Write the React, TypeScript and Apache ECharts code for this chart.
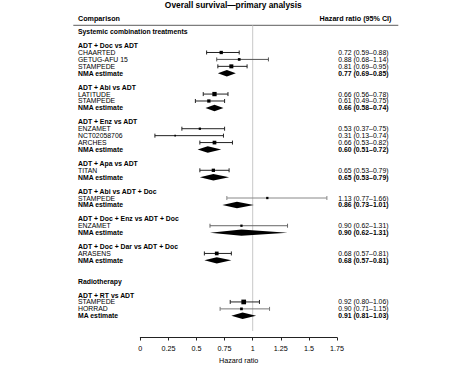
import React, { useEffect, useRef } from "react";
import * as echarts from "echarts";

// ---------- data ----------
const chartTitle = "Overall survival\u2014primary analysis";
const headerLeft = "Comparison";
const headerRight = "Hazard ratio (95% CI)";
const axisTitle = "Hazard ratio";

const sections = ["Systemic combination treatments", "Radiotherapy"];
const comparisons = [
  "ADT + Doc vs ADT",
  "ADT + Abi vs ADT",
  "ADT + Enz vs ADT",
  "ADT + Apa vs ADT",
  "ADT + Abi vs ADT + Doc",
  "ADT + Doc + Enz vs ADT + Doc",
  "ADT + Doc + Dar vs ADT + Doc",
  "ADT + RT vs ADT",
];
const comparisonSection = [0, 0, 0, 0, 0, 0, 0, 1];

const trials = [
  "CHAARTED", "GETUG-AFU 15", "STAMPEDE",
  "LATITUDE", "STAMPEDE",
  "ENZAMET", "NCT02058706", "ARCHES",
  "TITAN",
  "STAMPEDE",
  "ENZAMET",
  "ARASENS",
  "STAMPEDE", "HORRAD",
];
const trialComparison = [0, 0, 0, 1, 1, 2, 2, 2, 3, 4, 5, 6, 7, 7];
const trialHR = [0.72, 0.88, 0.81, 0.66, 0.61, 0.53, 0.31, 0.66, 0.65, 1.13, 0.9, 0.68, 0.92, 0.9];
const trialLow = [0.59, 0.68, 0.69, 0.56, 0.49, 0.37, 0.13, 0.53, 0.53, 0.77, 0.62, 0.57, 0.8, 0.71];
const trialHigh = [0.88, 1.14, 0.95, 0.78, 0.75, 0.75, 0.74, 0.82, 0.79, 1.66, 1.31, 0.81, 1.06, 1.15];
const trialWeight = [3.3, 2.7, 4.0, 4.3, 3.3, 2.3, 1.6, 3.7, 3.3, 2.3, 2.3, 3.7, 4.7, 2.7];

const estimateLabels = [
  "NMA estimate", "NMA estimate", "NMA estimate", "NMA estimate",
  "NMA estimate", "NMA estimate", "NMA estimate", "MA estimate",
];
const estimateHR = [0.77, 0.66, 0.6, 0.65, 0.86, 0.9, 0.68, 0.91];
const estimateLow = [0.69, 0.58, 0.51, 0.53, 0.73, 0.62, 0.57, 0.81];
const estimateHigh = [0.85, 0.74, 0.72, 0.79, 1.01, 1.31, 0.81, 1.03];

const referenceHR = 1;

// ---------- styles / layout ----------
const FONT = "'Liberation Sans', Arial, Helvetica, sans-serif";
const FS = 7.2;
const ROW_FS = 6.85;
const trialLineColor = ["#222", "#555", "#222", "#222", "#222", "#222", "#222", "#222", "#222", "#888", "#666", "#222", "#222", "#777"];

const fmt = (v: number) => v.toFixed(2);
const ciText = (h: number, l: number, u: number) => `${fmt(h)} (${fmt(l)}\u2013${fmt(u)})`;

type Row = { row: number; left: string; right: string; bold: boolean };

function buildLayout() {
  const textRows: Row[] = [];
  const trialRow: number[] = [];
  const estRow: number[] = [];
  let r = 0;
  sections.forEach((s, si) => {
    if (si > 0) r++;
    textRows.push({ row: r, left: s, right: "", bold: true });
    r += 2;
    comparisons.forEach((c, ci) => {
      if (comparisonSection[ci] !== si) return;
      textRows.push({ row: r, left: c, right: "", bold: true });
      r++;
      trials.forEach((t, ti) => {
        if (trialComparison[ti] !== ci) return;
        trialRow[ti] = r;
        textRows.push({ row: r, left: t, right: ciText(trialHR[ti], trialLow[ti], trialHigh[ti]), bold: false });
        r++;
      });
      estRow[ci] = r;
      textRows.push({ row: r, left: estimateLabels[ci], right: ciText(estimateHR[ci], estimateLow[ci], estimateHigh[ci]), bold: true });
      r++;
      r++;
    });
  });
  return { textRows, trialRow, estRow };
}

export default function App() {
  const ref = useRef<HTMLDivElement>(null);
  useEffect(() => {
    if (!ref.current) return;
    const chart = echarts.init(ref.current, null, { renderer: "svg" });
    const { textRows, trialRow, estRow } = buildLayout();
    const LEFT_X = 78;
    const RIGHT_X = 388.5;

    const option: any = {
      animation: false,
      backgroundColor: "#fff",
      grid: { left: 140.3, right: 137, top: 24.98, bottom: 34.5 },
      xAxis: {
        type: "value",
        min: 0,
        max: 1.75,
        interval: 0.25,
        splitLine: { show: false },
        axisLine: { show: true, onZero: false, lineStyle: { color: "#222", width: 1 } },
        axisTick: { show: true, length: 3, lineStyle: { color: "#222", width: 1 } },
        axisLabel: { color: "#000", fontSize: FS, fontFamily: FONT, margin: 7 },
        name: axisTitle,
        nameLocation: "middle",
        nameGap: 19,
        nameTextStyle: { color: "#000", fontSize: FS, fontFamily: FONT },
      },
      yAxis: { type: "value", inverse: true, min: -0.97, max: 44.13, show: false },
      graphic: [
        {
          type: "text", x: 233.3, y: 5,
          style: { text: chartTitle, fill: "#000", font: `bold 8.4px ${FONT}`, align: "center", verticalAlign: "middle" },
        },
        {
          type: "text", x: LEFT_X, y: 18,
          style: { text: headerLeft, fill: "#000", font: `bold ${FS}px ${FONT}`, align: "left", verticalAlign: "middle" },
        },
        {
          type: "text", x: 391.5, y: 18,
          style: { text: headerRight, fill: "#000", font: `bold ${FS}px ${FONT}`, align: "right", verticalAlign: "middle" },
        },
        {
          type: "line", shape: { x1: 73.3, y1: 25.3, x2: 398.3, y2: 25.3 },
          style: { stroke: "#333", lineWidth: 0.8 },
        },
      ],
      series: [
        {
          type: "custom",
          clip: false,
          silent: true,
          data: [[referenceHR, -0.9, 43.2]],
          encode: { x: 0, y: [1, 2] },
          renderItem: (params: any, api: any) => {
            const a = api.coord([api.value(0), api.value(1)]);
            const b = api.coord([api.value(0), api.value(2)]);
            return {
              type: "line",
              shape: { x1: a[0], y1: a[1], x2: b[0], y2: b[1] },
              style: { stroke: "#c8c8c8", lineWidth: 1 },
            };
          },
        },
        {
          type: "custom",
          clip: false,
          silent: true,
          data: trials.map((_, i) => [trialHR[i], trialLow[i], trialHigh[i], trialRow[i], trialWeight[i]]),
          encode: { x: [0, 1, 2], y: 3 },
          renderItem: (params: any, api: any) => {
            const row = api.value(3);
            const c = api.coord([api.value(0), row]);
            const l = api.coord([api.value(1), row]);
            const h = api.coord([api.value(2), row]);
            const s = api.value(4);
            const col = trialLineColor[params.dataIndex];
            const cap = 2;
            return {
              type: "group",
              children: [
                { type: "line", shape: { x1: l[0], y1: c[1], x2: h[0], y2: c[1] }, style: { stroke: col, lineWidth: 1 } },
                { type: "line", shape: { x1: l[0], y1: c[1] - cap, x2: l[0], y2: c[1] + cap }, style: { stroke: col, lineWidth: 1 } },
                { type: "line", shape: { x1: h[0], y1: c[1] - cap, x2: h[0], y2: c[1] + cap }, style: { stroke: col, lineWidth: 1 } },
                { type: "rect", shape: { x: c[0] - s / 2, y: c[1] - s / 2, width: s, height: s }, style: { fill: "#000" } },
              ],
            };
          },
        },
        {
          type: "custom",
          clip: false,
          silent: true,
          data: comparisons.map((_, i) => [estimateHR[i], estimateLow[i], estimateHigh[i], estRow[i]]),
          encode: { x: [0, 1, 2], y: 3 },
          renderItem: (params: any, api: any) => {
            const row = api.value(3);
            const c = api.coord([api.value(0), row]);
            const l = api.coord([api.value(1), row]);
            const h = api.coord([api.value(2), row]);
            const hh = 3.2;
            return {
              type: "polygon",
              shape: { points: [[l[0], c[1]], [c[0], c[1] - hh], [h[0], c[1]], [c[0], c[1] + hh]] },
              style: { fill: "#000" },
            };
          },
        },
        {
          type: "custom",
          clip: false,
          silent: true,
          data: textRows.map((t) => [0, t.row]),
          encode: { x: 0, y: 1 },
          renderItem: (params: any, api: any) => {
            const t = textRows[params.dataIndex];
            const p = api.coord([0, api.value(1)]);
            const font = `${t.bold ? "bold " : ""}${ROW_FS}px ${FONT}`;
            const children: any[] = [
              { type: "text", x: LEFT_X, y: p[1], style: { text: t.left, fill: "#000", font, align: "left", verticalAlign: "middle" } },
            ];
            if (t.right) {
              children.push({ type: "text", x: RIGHT_X, y: p[1], style: { text: t.right, fill: "#000", font, align: "right", verticalAlign: "middle" } });
            }
            return { type: "group", children };
          },
        },
      ],
    };
    chart.setOption(option);
    return () => chart.dispose();
  }, []);
  return <div ref={ref} style={{ position: "fixed", left: 0, top: 0, width: 474, height: 372 }} />;
}
